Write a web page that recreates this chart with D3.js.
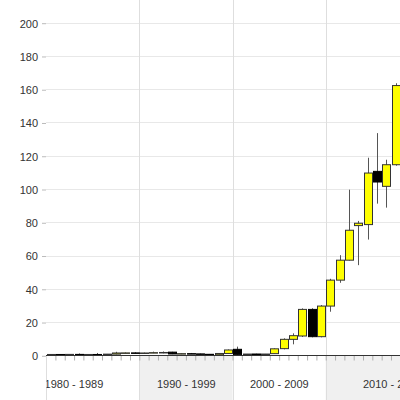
<!DOCTYPE html>
<html>
<head>
<meta charset="utf-8">
<script src="https://cdn.jsdelivr.net/npm/d3@7"></script>
<style>
html,body{margin:0;padding:0;background:#fff;overflow:hidden;}
svg{display:block;font-family:"Liberation Sans",Arial,sans-serif;}
</style>
</head>
<body>
<svg id="c" width="400" height="400"></svg>
<script>
const years = [1980,1981,1982,1983,1984,1985,1986,1987,1988,1989,
               1990,1991,1992,1993,1994,1995,1996,1997,1998,1999,
               2000,2001,2002,2003,2004,2005,2006,2007,2008,2009,
               2010,2011,2012,2013,2014,2015,2016,2017];
const open  = [0.45,0.5,0.28,0.55,0.4,0.5,0.4,0.7,1.4,1.45,
               1.2,1.4,1.6,1.9,0.8,1.0,0.85,0.6,0.35,1.1,
               3.6,0.45,0.78,0.51,1.0,4.0,9.6,11.6,27.6,11.2,
               29.6,45.2,57.2,78.0,78.6,110.6,101.6,114.6];
const high  = [0.55,0.6,0.6,1.1,0.6,1.4,0.8,2.1,1.7,1.8,
               1.6,2.2,2.3,2.1,1.2,1.4,1.0,0.8,1.3,3.5,
               5.2,0.8,0.95,0.8,4.2,10.2,13.2,28.2,28.3,30.2,
               46.0,60.2,99.6,80.8,118.8,133.6,117.6,163.6];
const low   = [0.4,0.25,0.2,0.3,0.3,0.25,0.35,0.6,1.2,1.1,
               0.85,1.3,1.2,0.7,0.7,0.8,0.55,0.3,0.3,0.9,
               0.3,0.4,0.5,0.45,0.9,3.6,6.6,11.0,10.8,10.8,
               26.2,43.6,57.0,54.2,69.6,91.2,88.8,114.0];
const close = [0.5,0.28,0.55,0.4,0.5,0.4,0.7,1.4,1.45,1.2,
               1.4,1.6,1.7,0.8,1.0,0.85,0.6,0.35,1.1,3.2,
               0.35,0.75,0.51,0.76,3.9,9.6,11.8,27.6,11.2,29.6,
               45.2,57.2,75.2,79.4,109.6,104.2,114.6,162.2];
const yTicks = [0,20,40,60,80,100,120,140,160,180,200];
const decades = [1980,1990,2000,2010];
const decadeLabels = ["1980 - 1989","1990 - 1999","2000 - 2009","2010 - 2019"];

const svg = d3.select("#c");
const W = 400, H = 400;
const x = d3.scaleLinear().domain([1980, 2018]).range([46.1, 400.3]);
const y = d3.scaleLinear().domain([0, 200]).range([355.3, 22.7]);
const axisY = 355.5;

// alternating bands under the axis
svg.append("g").selectAll("rect").data(decades.filter((d,i)=>i%2===1)).join("rect")
  .attr("x", d => x(d)).attr("y", axisY).attr("width", d => x(d+10)-x(d)).attr("height", H-axisY)
  .attr("fill", "#f0f0f0");

// horizontal grid
svg.append("g").selectAll("line").data(yTicks.filter(d=>d>0)).join("line")
  .attr("x1", 46).attr("x2", W).attr("y1", d => Math.round(y(d))+0.5).attr("y2", d => Math.round(y(d))+0.5)
  .attr("stroke", "#e8e8e8");

// vertical decade lines
svg.append("g").selectAll("line").data(decades.concat([2020])).join("line")
  .attr("x1", d => Math.round(x(d))+0.5).attr("x2", d => Math.round(x(d))+0.5)
  .attr("y1", d => d===1980 ? axisY : 0).attr("y2", H)
  .attr("stroke", "#dedede");

// y axis
const gy = svg.append("g").attr("transform","translate(46,0.5)")
  .call(d3.axisLeft(y).tickValues(yTicks).tickSize(4).tickPadding(4).tickFormat(d3.format("d")));
gy.select(".domain").remove();
gy.selectAll(".tick line").attr("stroke","#bbb");
gy.selectAll(".tick text").attr("fill","#333").attr("font-size","11px")
  .attr("font-family","Liberation Sans, Arial, sans-serif").attr("dy","0.35em");

// x axis minor ticks
const gx = svg.append("g").attr("transform",`translate(0,${axisY})`)
  .call(d3.axisBottom(x).tickValues(d3.range(1981, 2019)).tickSize(5).tickFormat(""));
gx.select(".domain").remove();
gx.selectAll(".tick line").attr("stroke","#b0b0b0");

// decade labels
svg.append("clipPath").attr("id","lc").append("rect").attr("x",46.5).attr("y",356).attr("width",400).attr("height",44);
const labelX = [44.6, 157, 250, 363];
svg.append("g").attr("clip-path","url(#lc)").selectAll("text").data(decadeLabels).join("text")
  .attr("x", (d,i) => labelX[i]).attr("y", 388)
  .attr("font-size","11px").attr("fill","#333").text(d => d);

// candles
const data = years.map((yr,i)=>({yr, o:open[i], h:high[i], l:low[i], c:close[i]}));
const g = svg.append("g");
g.selectAll("line.w").data(data).join("line").attr("class","w")
  .attr("x1", d => Math.round(x(d.yr+0.5))+0.5).attr("x2", d => Math.round(x(d.yr+0.5))+0.5)
  .attr("y1", d => y(d.h)).attr("y2", d => y(d.l))
  .attr("stroke","#555").attr("stroke-width",1);
g.selectAll("rect.b").data(data).join("rect").attr("class","b")
  .attr("x", d => Math.round(x(d.yr+0.5)) - 4 + 0.5)
  .attr("width", 8)
  .attr("y", d => y(Math.max(d.o,d.c)))
  .attr("height", d => Math.max(0.5, Math.abs(y(d.o)-y(d.c))))
  .attr("fill", d => d.c >= d.o ? "#ffff00" : "#000")
  .attr("stroke", d => d.c >= d.o ? "#333" : "#000")
  .attr("stroke-width",1);

// x axis line
svg.append("line").attr("x1",46).attr("x2",W).attr("y1",axisY).attr("y2",axisY)
  .attr("stroke","#333").attr("stroke-width",1);
</script>
</body>
</html>
